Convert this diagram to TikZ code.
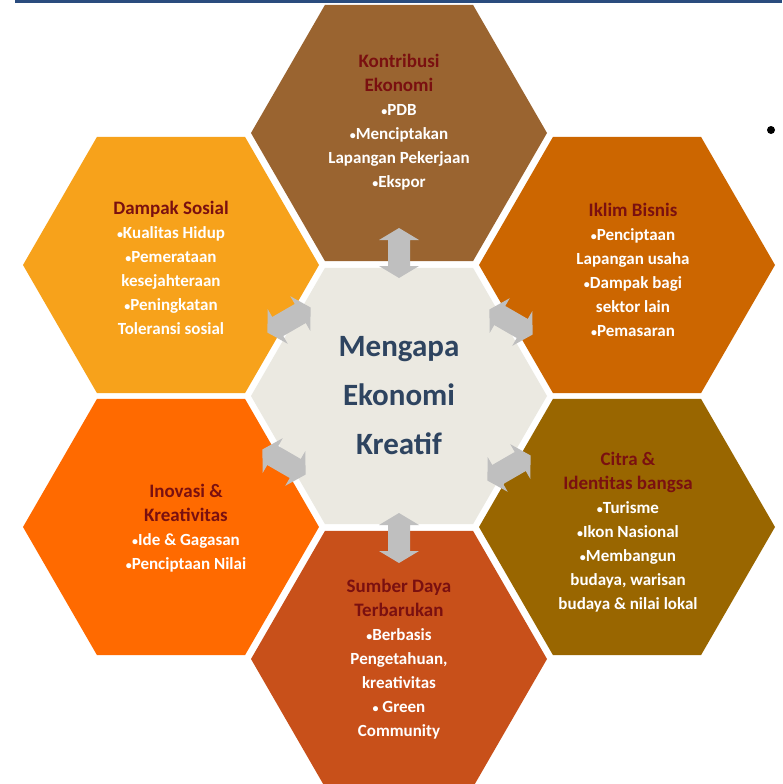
\documentclass[tikz,border=0pt]{standalone}
\usepackage{fontspec}
\setmainfont{Carlito}
\usetikzlibrary{shapes.geometric}
\definecolor{cTop}{HTML}{9A6430}
\definecolor{cTR}{HTML}{CC6600}
\definecolor{cBR}{HTML}{996600}
\definecolor{cBot}{HTML}{C8501A}
\definecolor{cBL}{HTML}{FF6A00}
\definecolor{cTL}{HTML}{F7A21B}
\definecolor{cMid}{HTML}{EBE9E1}
\definecolor{tRed}{HTML}{7A1010}
\definecolor{tBlue}{HTML}{2E4460}
\definecolor{lineBlue}{HTML}{2A4C7E}
\newcommand{\bt}{{\fontsize{12}{10}\selectfont•}}
\newcommand{\tl}[1]{{\color{tRed}\fontsize{19}{24}\selectfont #1}}
\tikzset{
 hex/.style={regular polygon,regular polygon sides=6,minimum size=296pt,inner sep=0pt,draw=none,fill=#1},
 txt/.style={align=center,font=\fontsize{17}{24}\selectfont\bfseries,text=white},
 darr/.pic={\fill[gray!50] (-25,0) -- (-13,-20) -- (-13,-11) -- (13,-11) -- (13,-20) -- (25,0) -- (13,20) -- (13,11) -- (-13,11) -- (-13,20) -- cycle;}
}
\begin{document}
\begin{tikzpicture}[x=1pt,y=-1pt]
\useasboundingbox (0,0) rectangle (782,784);
\fill[white] (0,0) rectangle (782,784);
\draw[lineBlue,line width=3pt] (15,2) -- (782,2);
\fill[black] (771,130) circle (4);
\node[hex=cTop] (h1) at (399,133) {};
\node[hex=cTR] (h2) at (627,265) {};
\node[hex=cBR] (h3) at (627,527) {};
\node[hex=cBot] (h4) at (399,659) {};
\node[hex=cBL] (h5) at (171,527) {};
\node[hex=cTL] (h6) at (171,265) {};
\node[hex=cMid] (hc) at (399,396) {};
\node[text=tBlue,align=center,font=\fontsize{31}{49}\selectfont\bfseries] (tc) at (399,396) {Mengapa\\Ekonomi\\Kreatif};
\node[txt] (t1) at (399,122) {\tl{Kontribusi}\\\tl{Ekonomi}\\\bt PDB\\\bt Menciptakan\\Lapangan Pekerjaan\\\bt Ekspor};
\node[txt] (t2) at (633,270) {\tl{Iklim Bisnis}\\\bt Penciptaan\\Lapangan usaha\\\bt Dampak bagi\\sektor lain\\\bt Pemasaran};
\node[txt] (t3) at (628,532) {\tl{Citra \&}\\\tl{Identitas bangsa}\\\bt Turisme\\\bt Ikon Nasional\\\bt Membangun\\budaya, warisan\\budaya \& nilai lokal};
\node[txt] (t4) at (399,659) {\tl{Sumber Daya}\\\tl{Terbarukan}\\\bt Berbasis\\Pengetahuan,\\kreativitas\\\bt{} Green\\Community};
\node[txt] (t5) at (186,528) {\tl{Inovasi \&}\\\tl{Kreativitas}\\\bt Ide \& Gagasan\\\bt Penciptaan Nilai};
\node[txt] (t6) at (171,268) {\tl{Dampak Sosial}\\\bt Kualitas Hidup\\\bt Pemerataan\\kesejahteraan\\\bt Peningkatan\\Toleransi sosial};
\pic[rotate=90] at (399,253) {darr};
\pic[rotate=90] at (399,538) {darr};
\pic[rotate=30] at (289,320) {darr};
\pic[rotate=-30] at (511,322) {darr};
\pic[rotate=30] at (509,468) {darr};
\pic[rotate=-30] at (284,462) {darr};
\end{tikzpicture}
\end{document}
